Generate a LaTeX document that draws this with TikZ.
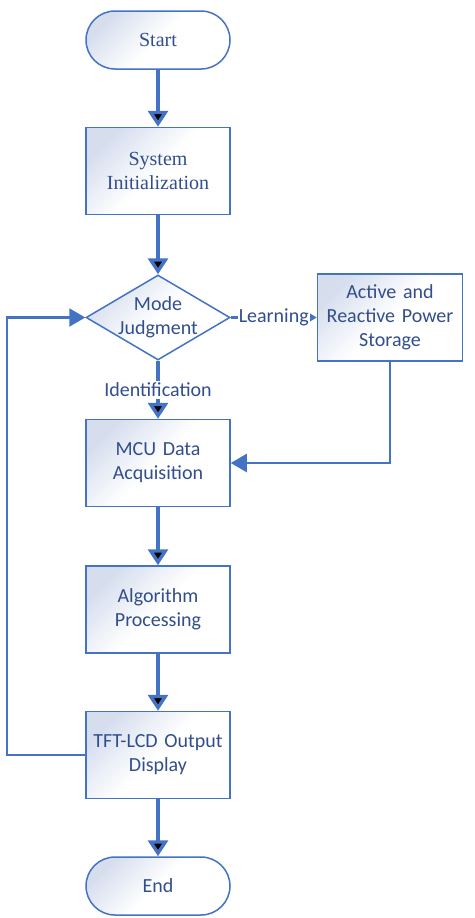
\documentclass[tikz,border=0pt]{standalone}
\usepackage{fontspec}
\setmainfont{Carlito}
\newfontfamily\serifface{Liberation Serif}
\usetikzlibrary{positioning,shapes.geometric,arrows.meta}
\definecolor{flowblue}{RGB}{68,114,196}
\definecolor{flowtext}{RGB}{50,78,140}
\definecolor{flowfill}{RGB}{214,222,238}
\begin{document}
\begin{tikzpicture}[x=1pt,y=1pt,node distance=57pt,
    font=\fontsize{20}{24}\selectfont,text=flowtext,
    base node/.style={draw=flowblue,line width=1.5pt,top color=flowfill,
      bottom color=white,middle color=white,shading angle=45,align=center,
      minimum width=144pt,inner sep=0pt},
    terminal/.style={base node,rounded corners=29pt,minimum height=58pt},
    process/.style={base node,minimum height=87pt,text width=140pt},
    decision/.style={base node,diamond,minimum height=85pt},
    serif text/.style={font=\fontsize{20}{24}\serifface},
    flow/.style={draw=flowblue,line width=3.4pt,
      -{Triangle[length=16pt,width=20pt]}},
    link/.style={draw=flowblue,line width=2.2pt,
      -{Triangle[length=16pt,width=18pt]}}]
    \useasboundingbox (0,0) rectangle (474,-918);

    \node[terminal,serif text] (start) at (158,-40) {Start};
    \node[process,serif text] (init) [below=of start] {System\\Initialization};
    \node[decision,label={[align=center]center:Mode\\Judgment}] (mode)
      [below=59pt of init] {};
    \node[process,minimum width=145pt] (store) [right=86pt of mode]
      {Active and\\Reactive Power\\Storage};
    \node[process] (mcu) [below=58pt of mode] {MCU Data\\Acquisition};
    \node[process] (algo) [below=58pt of mcu] {Algorithm\\Processing};
    \node[process] (tft) [below=of algo] {TFT-LCD Output\\Display};
    \node[terminal] (end) [below=of tft] {End};

    \path[flow]
      (start) edge (init)
      (init) edge (mode)
      (mode) edge node[fill=white,inner sep=2pt] {Identification} (mcu)
      (mcu) edge (algo)
      (algo) edge (tft)
      (tft) edge (end);
    \draw[link,-{Triangle[length=8pt,width=9pt]}] (mode)
      -- node[fill=white,inner sep=1pt] {Learning} (store);
    \draw[link] (store.south) |- (mcu.east);
    \draw[link] (tft.west) -- ++(-78,0) |- (mode.west);
  \end{tikzpicture}
\end{document}
